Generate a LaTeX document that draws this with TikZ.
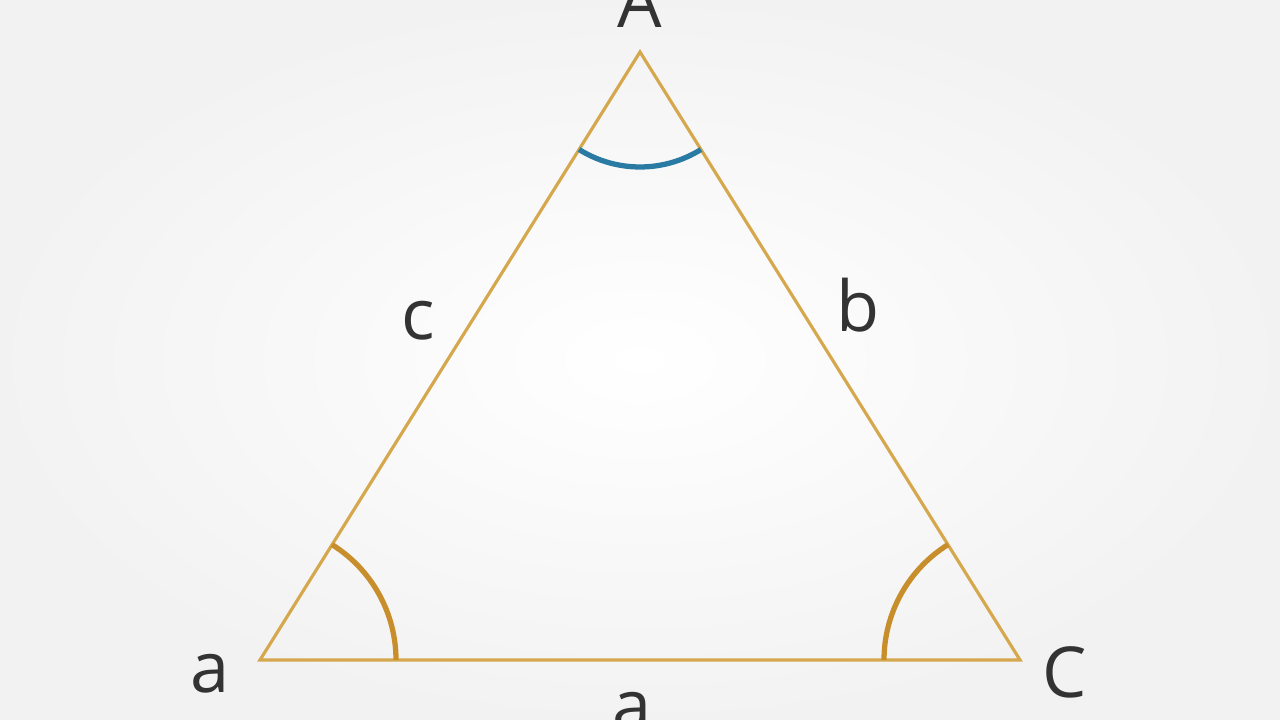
\documentclass[tikz,border=0pt]{standalone}
\usepackage{fontspec}
\setmainfont{Open Sans}
\usepackage{xcolor}
\usepackage{tikz}
\definecolor{sidegold}{HTML}{D6A84E}
\definecolor{arcgold}{HTML}{C98E2C}
\definecolor{arcblue}{HTML}{2A7BA3}
\definecolor{labelgray}{HTML}{333333}
\tikzset{
    side/.style={draw=sidegold, line width=0.9pt, line join=miter},
    anglearc/.style={draw=arcgold, line width=1.5pt},
    topangle/.style={draw=arcblue, line width=1.5pt},
    vlabel/.style={text=labelgray, font=\fontsize{20}{24}\selectfont, anchor=base, inner sep=0pt}
}

\begin{document}
\begin{tikzpicture}
    % background
    \useasboundingbox (0,0) rectangle (12.8,7.2);
    \shade[inner color=white, outer color=black!5] (0,0) rectangle (12.8,7.2);

    % vertices
    \coordinate (A) at (6.4, 6.68);
    \coordinate (B) at (2.6, 0.6);
    \coordinate (C) at (10.2, 0.6);

    % triangle
    \draw[side] (A) -- (B) -- (C) -- cycle;

    % angle arcs
    \draw[topangle] ([shift={(238:1.15)}]A) arc[start angle=238, end angle=302, radius=1.15];
    \draw[anglearc] ([shift={(0:1.36)}]B) arc[start angle=0, end angle=58, radius=1.36];
    \draw[anglearc] ([shift={(122:1.36)}]C) arc[start angle=122, end angle=180, radius=1.36];

    % labels
    \node[vlabel] (labA) at (6.4, 6.92) {A};
    \node[vlabel] (labB) at (2.1, 0.27) {a};
    \node[vlabel] (labC) at (10.65, 0.22) {C};
    \node[vlabel] (labBase) at (6.32, -0.11) {a};
    \node[vlabel] (labc) at (4.18, 3.80) {c};
    \node[vlabel] (labb) at (8.58, 3.88) {b};
\end{tikzpicture}
\end{document}
